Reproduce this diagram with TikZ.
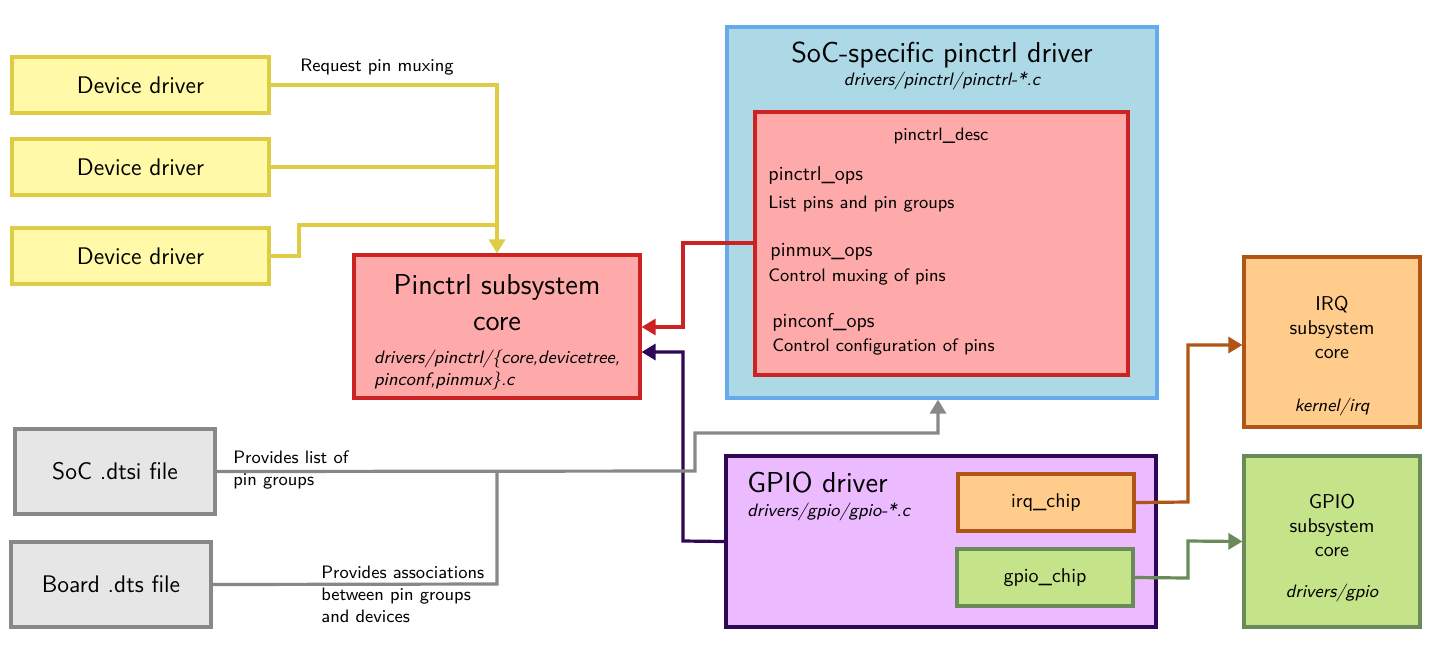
\documentclass[tikz,border=0pt]{standalone}
\usetikzlibrary{arrows.meta}
\renewcommand\familydefault{\sfdefault}
\definecolor{ddfill}{HTML}{FFF9A8}
\definecolor{ddline}{HTML}{DDCC44}
\definecolor{pkfill}{HTML}{FFAAAA}
\definecolor{pkline}{HTML}{CC2222}
\definecolor{blfill}{HTML}{ADD8E6}
\definecolor{blline}{HTML}{66AAEE}
\definecolor{orfill}{HTML}{FFCC8C}
\definecolor{orline}{HTML}{B05515}
\definecolor{grfill}{HTML}{C5E388}
\definecolor{grline}{HTML}{6A8A5A}
\definecolor{gyfill}{HTML}{E6E6E6}
\definecolor{gyline}{HTML}{888888}
\definecolor{pufill}{HTML}{EBBAFF}
\definecolor{puline}{HTML}{2E0854}

\begin{document}
\begin{tikzpicture}[x=0.5pt,y=-0.5pt]
        \tikzset{
          box/.style={draw, line width=1.6pt, inner sep=0pt},
          wire/.style={line width=1.6pt, -{Triangle[length=7pt,width=8pt]}},
          plain/.style={line width=1.6pt},
          lbl/.style={font=\small, align=left, anchor=west, inner sep=0pt},
          path/.style={font=\small\itshape, inner sep=0pt},
        }
        \useasboundingbox (0,0) rectangle (1440,650);
        % boxes
        \node[box, draw=ddline, fill=ddfill, minimum width=128.5pt, minimum height=28pt, font=\large] (dd1) at (140.5,85) {Device driver};
        \node[box, draw=ddline, fill=ddfill, minimum width=128.5pt, minimum height=28pt, font=\large] (dd2) at (140.5,167) {Device driver};
        \node[box, draw=ddline, fill=ddfill, minimum width=128.5pt, minimum height=28pt, font=\large] (dd3) at (140.5,256) {Device driver};
        \node[box, draw=pkline, fill=pkfill, minimum width=143pt, minimum height=71.5pt] (core) at (497,326.5) {};
        \node[font=\Large, align=center] (coret) at (497,303) {Pinctrl subsystem\\core};
        \node[path, align=left] (corep) at (497,370) {drivers/pinctrl/\{core,devicetree,\\pinconf,pinmux\}.c};
        \node[box, draw=blline, fill=blfill, minimum width=215pt, minimum height=185.5pt] (soc) at (942,212.5) {};
        \node[font=\Large] (soct) at (942,55) {SoC-specific pinctrl driver};
        \node[path] (socp) at (942,81) {drivers/pinctrl/pinctrl-*.c};
        \node[box, draw=pkline, fill=pkfill, minimum width=186.5pt, minimum height=131.5pt] (desc) at (941.5,243.5) {};
        \node[font=\small] (desct) at (941,136) {pinctrl\_desc};
        \node[lbl, font=\normalsize] (ops1) at (768,175) {pinctrl\_ops};
        \node[lbl] (ops1d) at (768,204) {List pins and pin groups};
        \node[lbl, font=\normalsize] (ops2) at (770,252) {pinmux\_ops};
        \node[lbl] (ops2d) at (768,277) {Control muxing of pins};
        \node[lbl, font=\normalsize] (ops3) at (772,322) {pinconf\_ops};
        \node[lbl] (ops3d) at (772,347) {Control configuration of pins};
        \node[box, draw=orline, fill=orfill, minimum width=88pt, minimum height=85pt] (irq) at (1332,342) {};
        \node[align=center] (irqt) at (1332,327) {IRQ\\subsystem\\core};
        \node[path] (irqp) at (1332,407) {kernel/irq};
        \node[box, draw=grline, fill=grfill, minimum width=88pt, minimum height=85.5pt] (gcore) at (1332,541.5) {};
        \node[align=center] (gcoret) at (1332,525) {GPIO\\subsystem\\core};
        \node[path] (gcorep) at (1332,593) {drivers/gpio};
        \node[box, draw=puline, fill=pufill, minimum width=215pt, minimum height=85.5pt] (gdrv) at (941,541.5) {};
        \node[font=\Large, anchor=west, inner sep=0pt] (gdrvt) at (747,482) {GPIO driver};
        \node[path, anchor=west] (gdrvp) at (747,512) {drivers/gpio/gpio-*.c};
        \node[box, draw=orline, fill=orfill, minimum width=88pt, minimum height=28.5pt] (irqc) at (1046,502.5) {irq\_chip};
        \node[box, draw=grline, fill=grfill, minimum width=88pt, minimum height=28.5pt] (gpioc) at (1045,577.5) {gpio\_chip};
        \node[box, draw=gyline, fill=gyfill, minimum width=100pt, minimum height=42.5pt, font=\large] (dtsi) at (115,471.5) {SoC .dtsi file};
        \node[box, draw=gyline, fill=gyfill, minimum width=100pt, minimum height=42.5pt, font=\large] (dts) at (111,584.5) {Board .dts file};
        % labels
        \node[lbl] (req) at (300,67) {Request pin muxing};
        \node[lbl] (prov1) at (233,470) {Provides list of\\pin groups};
        \node[lbl] (prov2) at (321,594) {Provides associations\\between pin groups\\and devices};
        % connectors
        \draw[plain, ddline] (dd1.east) -- (497,85) -- (497,225);
        \draw[plain, ddline] (dd2.east) -- (497,167);
        \draw[wire, ddline] (dd3.east) -- (299,256) -- (299,225) -- (497,225) -- (core.north);
        \draw[wire, pkline] (desc.west |- 0,243) -- (683,243) -- (683,327) -- (core.east |- 0,327);
        \draw[wire, puline] (gdrv.west) -- (683,541) -- (683,352) -- (core.east |- 0,352);
        \draw[wire, gyline] (dtsi.east) -- (695,471) -- (695,433) -- (938,433) -- (soc.south -| 938,0);
        \draw[plain, gyline] (dts.east) -- (497,584) -- (497,471);
        \draw[wire, orline] (irqc.east) -- (1188,502) -- (1188,345) -- (irq.west |- 0,345);
        \draw[wire, grline] (gpioc.east) -- (1188,578) -- (1188,541) -- (gcore.west);
\end{tikzpicture}
\end{document}
